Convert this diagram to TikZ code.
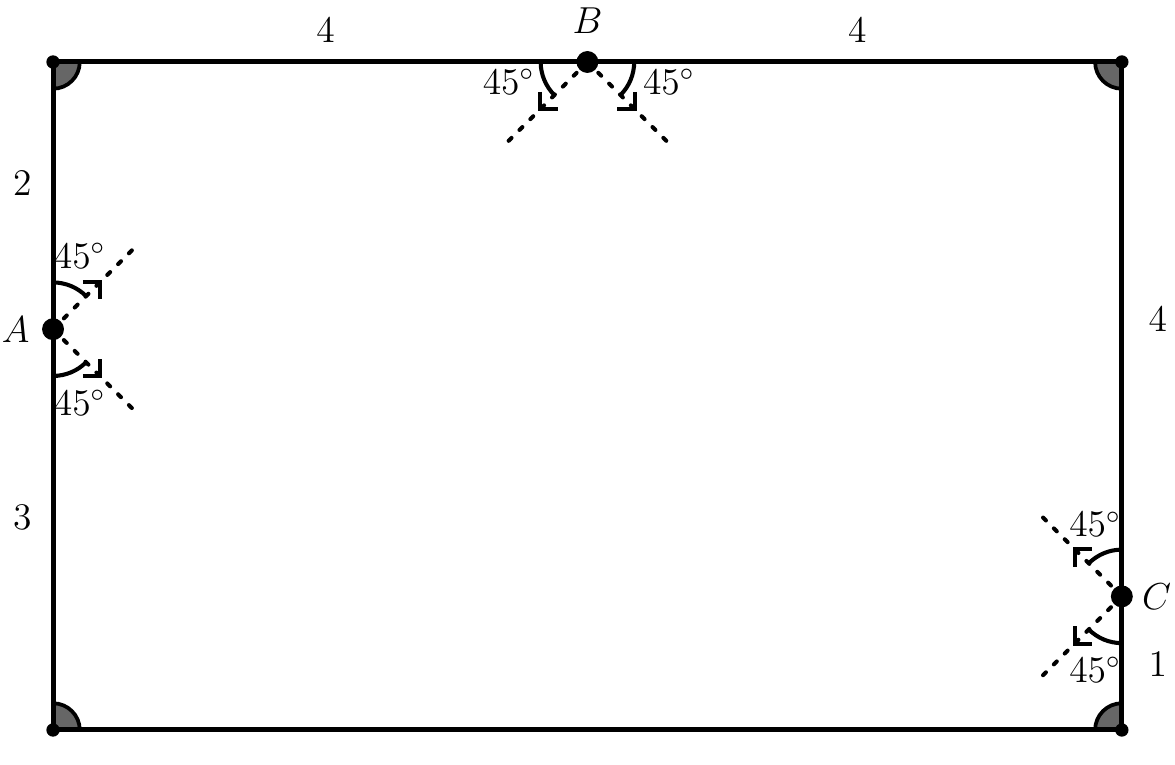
\documentclass[tikz,border=0pt]{standalone}
\usetikzlibrary{calc}
\begin{document}
\begin{tikzpicture}[x=1.5cm,y=1.5cm,
  side/.style={line width=1.6pt},
  dotray/.style={line width=1.3pt, line cap=round, dash pattern=on 1.3pt off 3.6pt},
  arcmark/.style={line width=1.3pt},
  cornerfill/.style={fill=black!60, draw=black, line width=1.2pt},
  anglab/.style={inner sep=0.6pt, font=\large},
  sidelab/.style={inner sep=2pt, font=\large}]
\useasboundingbox (-0.397,-0.262) rectangle (8.398,5.464);
\coordinate (P1) at (0,0);
\coordinate (P2) at (8,0);
\coordinate (P3) at (8,5);
\coordinate (P4) at (0,5);
\coordinate (A) at (0,3);
\coordinate (B) at (4,5);
\coordinate (C) at (8,1);
% right-angle corner fills
\filldraw[cornerfill] (P1) -- ++(0.2,0) arc (0:90:0.2) -- cycle;
\filldraw[cornerfill] (P2) -- ++(0,0.2) arc (90:180:0.2) -- cycle;
\filldraw[cornerfill] (P3) -- ++(-0.2,0) arc (180:270:0.2) -- cycle;
\filldraw[cornerfill] (P4) -- ++(0,-0.2) arc (270:360:0.2) -- cycle;
% rays
\path (B) ++(225:0.88) coordinate (Bl);
\path (B) ++(315:0.88) coordinate (Br);
\path (A) ++(45:0.88) coordinate (Au);
\path (A) ++(-45:0.88) coordinate (Ad);
\path (C) ++(135:0.88) coordinate (Cu);
\path (C) ++(225:0.88) coordinate (Cd);
\draw[dotray] (B) -- (Bl);
\draw[dotray] (B) -- (Br);
\draw[dotray] (A) -- (Au);
\draw[dotray] (A) -- (Ad);
\draw[dotray] (C) -- (Cu);
\draw[dotray] (C) -- (Cd);
% angle arcs
\draw[arcmark] (B) ++(180:0.35) arc (180:225:0.35);
\draw[arcmark] (B) ++(0:0.35) arc (0:-45:0.35);
\draw[arcmark] (A) ++(90:0.35) arc (90:45:0.35);
\draw[arcmark] (A) ++(-90:0.35) arc (-90:-45:0.35);
\draw[arcmark] (C) ++(90:0.35) arc (90:135:0.35);
\draw[arcmark] (C) ++(270:0.35) arc (270:225:0.35);
% brackets
\draw[arcmark] (B) ++(225:0.5) ++(0,0.13) -- ++(0,-0.13) -- ++(0.13,0);
\draw[arcmark] (B) ++(315:0.5) ++(0,0.13) -- ++(0,-0.13) -- ++(-0.13,0);
\draw[arcmark] (A) ++(45:0.5) ++(-0.13,0) -- ++(0.13,0) -- ++(0,-0.13);
\draw[arcmark] (A) ++(-45:0.5) ++(-0.13,0) -- ++(0.13,0) -- ++(0,0.13);
\draw[arcmark] (C) ++(135:0.5) ++(0.13,0) -- ++(-0.13,0) -- ++(0,-0.13);
\draw[arcmark] (C) ++(225:0.5) ++(0.13,0) -- ++(-0.13,0) -- ++(0,0.13);
% rectangle
\draw[side, line join=miter] (P1) -- (P2) -- (P3) -- (P4) -- cycle;
% angle labels
\node[anglab] (la1) at ($(A)+(0.2,0.55)$) {$45^\circ$};
\node[anglab] (la2) at ($(A)+(0.2,-0.55)$) {$45^\circ$};
\node[anglab] (lb1) at ($(B)+(-0.59,-0.15)$) {$45^\circ$};
\node[anglab] (lb2) at ($(B)+(0.61,-0.15)$) {$45^\circ$};
\node[anglab] (lc1) at ($(C)+(-0.2,0.54)$) {$45^\circ$};
\node[anglab] (lc2) at ($(C)+(-0.2,-0.55)$) {$45^\circ$};
% side labels
\node[sidelab] (s1) at (2.04,5.24) {$4$};
\node[sidelab] (s2) at (6.02,5.24) {$4$};
\node[sidelab] (s3) at (-0.23,4.09) {$2$};
\node[sidelab] (s4) at (-0.23,1.59) {$3$};
\node[sidelab] (s5) at (8.27,3.07) {$4$};
\node[sidelab] (s6) at (8.27,0.49) {$1$};
% point labels
\node[font=\large] (lA) at (-0.28,3) {$A$};
\node[font=\large] (lB) at (4,5.31) {$B$};
\node[font=\large] (lC) at (8.26,1) {$C$};
% dots
\foreach \p in {P1,P2,P3,P4} \fill (\p) circle (0.05);
\foreach \p in {A,B,C} \fill (\p) circle (0.082);
\end{tikzpicture}
\end{document}
